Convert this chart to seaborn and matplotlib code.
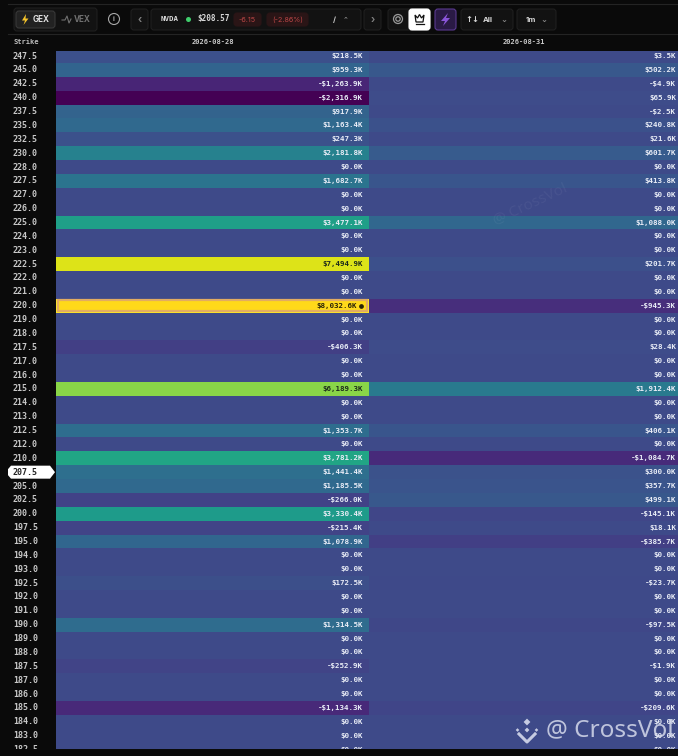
import numpy as np
import pandas as pd
import seaborn as sns
import matplotlib
matplotlib.use("Agg")
import matplotlib.pyplot as plt
from matplotlib.patches import Rectangle, FancyBboxPatch, Polygon, Circle

strikes = [247.5,245.0,242.5,240.0,237.5,235.0,232.5,230.0,228.0,227.5,227.0,226.0,225.0,224.0,223.0,222.5,222.0,221.0,
           220.0,219.0,218.0,217.5,217.0,216.0,215.0,214.0,213.0,212.5,212.0,210.0,207.5,205.0,202.5,200.0,197.5,195.0,
           194.0,193.0,192.5,192.0,191.0,190.0,189.0,188.0,187.5,187.0,186.0,185.0,184.0,183.0,182.5]
exp_0828 = [218.5,959.3,-1263.9,-2316.9,917.9,1163.4,247.3,2181.8,0,1682.7,0,0,3477.1,0,0,7494.9,0,0,
            8032.6,0,0,-406.3,0,0,6189.3,0,0,1353.7,0,3781.2,1441.4,1185.5,-266.0,3330.4,-215.4,1078.9,
            0,0,172.5,0,0,1314.5,0,0,-252.9,0,0,-1134.3,0,0,0]
exp_0831 = [3.5,502.2,-4.9,65.9,-2.5,240.8,21.6,601.7,0,413.8,0,0,1088.0,0,0,201.7,0,0,
            -945.3,0,0,28.4,0,0,1912.4,0,0,406.1,0,-1084.7,300.0,357.7,499.1,-145.1,18.1,-385.7,
            0,0,-23.7,0,0,-97.5,0,0,-1.9,0,0,-209.6,0,0,0]
dates = ["2026-08-28", "2026-08-31"]

BG = "#0a0a0a"
W, H = 678, 756
MONO = "DejaVu Sans Mono"
df = pd.DataFrame({dates[0]: exp_0828, dates[1]: exp_0831}, index=[f"{s:.1f}" for s in strikes])

def fmt(v):
    return f"-${abs(v):,.1f}K" if v < 0 else f"${v:,.1f}K"

fig = plt.figure(figsize=(W/100, H/100), dpi=100, facecolor=BG)
# axes run a little past the visible bottom edge; the overlay band trims them at y=749
BOTTOM = 752
ax1 = fig.add_axes([56/W, 1-BOTTOM/H, 313/W, (BOTTOM-51)/H], facecolor=BG)
ax2 = fig.add_axes([369/W, 1-BOTTOM/H, 309/W, (BOTTOM-51)/H], facecolor=BG)
row_h = 13.87
vmin, vmax = min(exp_0828), max(exp_0828)
peak = int(np.argmax(exp_0828))
for i, (ax, col) in enumerate(zip((ax1, ax2), dates)):
    sns.heatmap(df[[col]], ax=ax, cmap="viridis", vmin=vmin, vmax=vmax, cbar=False,
                yticklabels=(1 if i == 0 else False), linewidths=0)
    ax.set_ylim((BOTTOM-49.13)/row_h, (51-49.13)/row_h)
    ax.set_xlabel(""); ax.set_ylabel("")
    ax.xaxis.tick_top()
    ax.tick_params(axis="x", length=0, pad=4, labelsize=5, labelcolor="#c9c9c9")
    ax.tick_params(axis="y", length=0, pad=13, labelsize=6, labelcolor="#c8c8c8", labelrotation=0)
    for l in ax.get_xticklabels():
        l.set_fontfamily(MONO); l.set_fontweight("bold"); l.set_rotation(0)
    for l in ax.get_yticklabels():
        l.set_fontfamily(MONO); l.set_fontweight("bold")
        if l.get_text() == "207.5":
            l.set_color("#222222")
    # value labels, right aligned inside each cell
    xt = .981 if i == 0 else .9935
    for r, val in enumerate(df[col]):
        if i == 0 and r == peak:
            continue
        ax.text(xt, r + .5, fmt(val), ha="right", va="center", fontsize=5.4, family=MONO, fontweight="bold",
                color="#1c2a1c" if val > 5000 else "#e8ecf6")

# highlighted peak cell
ax1.add_patch(Rectangle((0.005, peak + .09), .99, .82, fc="#ffd91a", ec="#e2ac62", lw=1.6, zorder=2))
ax1.text(.9625, peak + .5, fmt(exp_0828[peak]), ha="right", va="center", fontsize=5.4, zorder=3,
         family=MONO, fontweight="bold", color="#2a2408")
ax1.plot([.9745], [peak + .5], "o", ms=2.4, color="#2a2408", zorder=3)

# chrome overlay, in pixel coordinates
ov = fig.add_axes([0, 0, 1, 1], facecolor="none")
ov.set_xlim(0, W); ov.set_ylim(H, 0); ov.axis("off")
ov.add_patch(Rectangle((0, 749), W, 7, fc=BG, ec="none"))
for yy in (3.5, 34):
    ov.plot([8, W], [yy, yy], color="#242424", lw=.8)

def box(x0, y0, x1, y1, fc="#121212", ec="#1f1f1f", r=3):
    ov.add_patch(FancyBboxPatch((x0+r, y0+r), x1-x0-2*r, y1-y0-2*r, boxstyle=f"round,pad={r}", fc=fc, ec=ec, lw=.8))

def label(x, y, s, color="#d8d8d8", size=5.6, ha="left", weight="bold", family="Inter"):
    ov.text(x, y, s, color=color, fontsize=size, ha=ha, va="center", fontweight=weight, family=family)

box(14, 8, 97, 31)
box(16, 11, 55, 28, fc="#222222", ec="#383838")
label(33, 19.5, "GEX", "#e0e0e0", 5.8)
ov.add_patch(Polygon([[26,14],[22,20.5],[25,20.5],[23.5,25],[28.5,18.5],[25.5,18.5]], fc="#f6c42a", ec="none"))
ov.plot([62,65,67,69,71], [20,20,16,23,19], color="#707070", lw=.8)
label(73.5, 19.5, "VEX", "#707070", 5.8)
ov.add_patch(Circle((114, 19), 5.5, fc="none", ec="#a8a8a8", lw=.8))
label(114, 19, "i", "#a8a8a8", 5, ha="center")
box(131, 9, 148, 30)
label(139.5, 19.5, "‹", "#808080", 7, ha="center")
box(151, 9, 361, 30)
label(161, 19, "NVDA", "#d8d8d8", 5.4, family=MONO)
ov.add_patch(Circle((188.5, 19.5), 2.5, fc="#3fce6c", ec="none"))
label(197, 19, "$208.57", "#d8d8d8", 5.6, family=MONO)
box(234, 13, 261, 26, fc="#2a1516", ec="#2a1516")
label(247.5, 19.5, "-6.15", "#b84545", 5.2, ha="center", weight="normal")
box(267, 13, 308, 26, fc="#2a1516", ec="#2a1516")
label(287.5, 19.5, "(-2.86%)", "#b84545", 5.2, ha="center", weight="normal")
label(334, 19.5, "/", "#c8c8c8", 5.6, ha="center")
label(346, 19.5, "⌃", "#909090", 5, ha="center", family="DejaVu Sans")
box(364, 9, 381, 30)
label(372.5, 19.5, "›", "#808080", 7, ha="center")
box(388, 9, 430, 30)
ov.add_patch(Circle((398, 19), 4.5, fc="none", ec="#9a9a9a", lw=.9))
ov.add_patch(Circle((398, 19), 2.2, fc="none", ec="#9a9a9a", lw=.9))
box(409, 9, 430, 30, fc="#ffffff", ec="#ffffff")
ov.add_patch(Polygon([[415,15],[417.5,18],[419.5,14.5],[421.5,18],[424,15],[423,22],[416,22]], fc="none", ec="#111111", lw=.9))
ov.plot([415.5, 423.5], [24, 24], color="#111111", lw=.9)
box(435, 9, 456, 30, fc="#2a1a45", ec="#5a3a90")
ov.add_patch(Polygon([[448,13],[441,21],[445,21],[443,26],[450,18],[446,18]], fc="#8a55d8", ec="none"))
box(461, 9, 513, 30)
label(472, 19.5, "↑↓", "#d8d8d8", 6, ha="center", family="DejaVu Sans")
label(483, 19.5, "All", "#d8d8d8", 5.6)
label(500, 19.5, "⌄", "#8a8a8a", 6, family="DejaVu Sans")
box(517, 9, 556, 30)
label(526, 19.5, "1m", "#d8d8d8", 5.6)
label(540, 19.5, "⌄", "#8a8a8a", 6, family="DejaVu Sans")
label(13, 42.5, "Strike", "#bdbdbd", 5, family=MONO)

# current-price tag, drawn under the axes so the 207.5 tick label sits on it
tag_y = 49.13 + (strikes.index(207.5) + .5) * row_h
tag = Polygon([[11, tag_y-6.5], [50, tag_y-6.5], [55, tag_y], [50, tag_y+6.5], [11, tag_y+6.5], [8, tag_y+3], [8, tag_y-3]],
              fc="#ffffff", ec="none", zorder=-1, transform=ov.transData)
fig.add_artist(tag)

# watermark
wm = "#dfe3f2"
cx, cy = 527, 730
for dx, dy, s in [(0, -8, 3.4), (-9.5, 0, 1.8), (9.5, 0, 1.8), (0, 0, 2.4)]:
    ov.add_patch(Polygon([[cx+dx, cy+dy-s], [cx+dx+s, cy+dy], [cx+dx, cy+dy+s], [cx+dx-s, cy+dy]], fc=wm, ec="none", alpha=.85))
ov.plot([cx-8, cx, cx+8], [cy+4, cy+12, cy+4], color=wm, lw=2.2, alpha=.85)
ov.text(546, 730, "@ CrossVol", color=wm, alpha=.8, fontsize=17.5, family="Noto Sans", va="center", ha="left", clip_on=True)
ov.text(530, 205, "@ CrossVol", color="#ffffff", alpha=.05, fontsize=11, family="Noto Sans", rotation=25, ha="center", va="center")

fig.savefig("out.png", dpi=100, facecolor=BG)
